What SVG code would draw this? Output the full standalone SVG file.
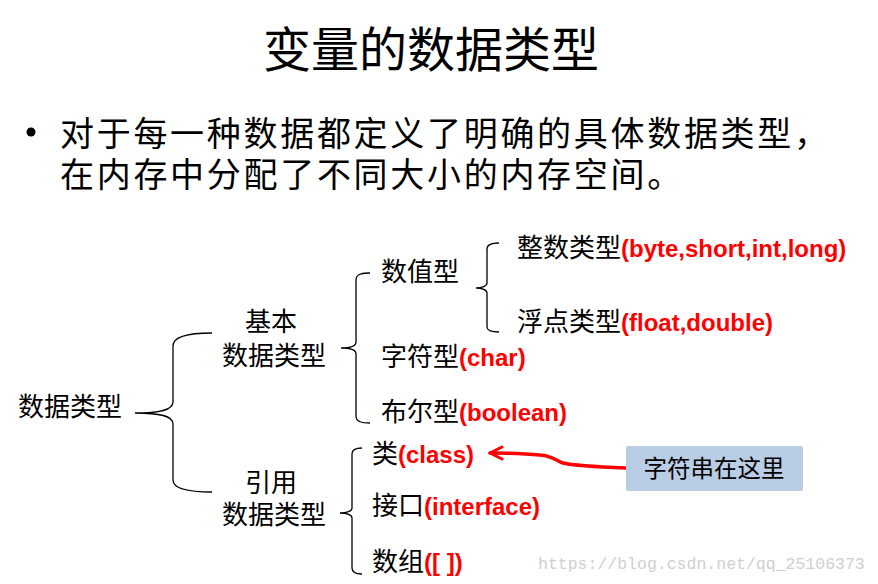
<svg xmlns="http://www.w3.org/2000/svg" width="878" height="584" viewBox="0 0 878 584">
<style>
.cjk{font-family:"Noto Sans CJK SC","Liberation Sans",sans-serif;fill:#000}
.lbl{font-size:26px}
.red{font-family:"Liberation Sans",Arial,sans-serif;font-weight:bold;fill:#ff0000;font-size:24px}
.brace{fill:none;stroke:#000;stroke-width:1.3}
</style>
<defs>
<marker id="ah" markerWidth="16" markerHeight="16" refX="14" refY="8" orient="auto" markerUnits="userSpaceOnUse">
<path d="M2,2 L14,8 L2,14" fill="none" stroke="#ff0000" stroke-width="3" stroke-linecap="round" stroke-linejoin="round"/>
</marker>
</defs>
<rect width="878" height="584" fill="#fff"/>
<g id="title"><text class="cjk" x="431" y="67" font-size="48" text-anchor="middle">变量的数据类型</text></g>
<g id="bullet">
<circle cx="31" cy="132" r="4.5" fill="#000"/>
<text class="cjk" x="60" y="146" font-size="34" letter-spacing="2.7">对于每一种数据都定义了明确的具体数据类型，</text>
<text class="cjk" x="60" y="187" font-size="34" letter-spacing="2.7">在内存中分配了不同大小的内存空间。</text>
</g>
<g id="connectors">
<path class="brace" d="M212,333 C190,333 173,336 173,346 L173,402 C173,410 160,413 135,413 C160,413 173,416 173,424 L173,480 C173,489 190,492 212,492"/>
<path class="brace" d="M370,273 C362,273 356,274 356,280 L356,342 C356,346 350,348 341,348 C350,348 356,350 356,354 L356,416 C356,422 362,423 370,423"/>
<path class="brace" d="M499,243 C492,243 487,244 487,249 L487,283 C487,286 482,288 476,288 C482,288 487,290 487,293 L487,327 C487,331 492,332 499,332"/>
<path class="brace" d="M362,448 C356,448 352,449 352,454 L352,508 C352,511 347,513 340,513 C347,513 352,515 352,518 L352,568 C352,573 356,574 362,574"/>
<path d="M626,468 C600,467 575,466 563,463 C555,460 553,456 540,455 C520,453 505,453 490,453" fill="none" stroke="#ff0000" stroke-width="3.5" stroke-linecap="round" marker-end="url(#ah)"/>
</g>
<g id="root"><text class="cjk lbl" x="18" y="416">数据类型</text></g>
<g id="basic">
<text class="cjk lbl" x="271" y="331" text-anchor="middle">基本</text>
<text class="cjk lbl" x="274" y="365" text-anchor="middle">数据类型</text>
</g>
<g id="reference">
<text class="cjk lbl" x="271" y="492" text-anchor="middle">引用</text>
<text class="cjk lbl" x="274" y="524" text-anchor="middle">数据类型</text>
</g>
<g id="numeric"><text class="cjk lbl" x="381" y="281">数值型</text></g>
<g id="integer"><text x="517" y="257"><tspan class="cjk lbl">整数类型</tspan><tspan class="red">(byte,short,int,long)</tspan></text></g>
<g id="float"><text x="517" y="331"><tspan class="cjk lbl">浮点类型</tspan><tspan class="red">(float,double)</tspan></text></g>
<g id="char"><text x="381" y="366"><tspan class="cjk lbl">字符型</tspan><tspan class="red">(char)</tspan></text></g>
<g id="boolean"><text x="381" y="421"><tspan class="cjk lbl">布尔型</tspan><tspan class="red">(boolean)</tspan></text></g>
<g id="class"><text x="372" y="463"><tspan class="cjk lbl">类</tspan><tspan class="red">(class)</tspan></text></g>
<g id="interface"><text x="372" y="515"><tspan class="cjk lbl">接口</tspan><tspan class="red">(interface)</tspan></text></g>
<g id="array"><text x="372" y="571"><tspan class="cjk lbl">数组</tspan><tspan class="red">([ ])</tspan></text></g>
<g id="note">
<rect x="626" y="446" width="177" height="45" rx="2" fill="#b9cde5"/>
<text class="cjk" x="714" y="477" font-size="23.5" text-anchor="middle">字符串在这里</text>
</g>
<g id="watermark"><text x="538" y="569" font-family="'Liberation Mono',monospace" font-size="16.5" fill="#cfcfcf">https://blog.csdn.net/qq_25106373</text></g>
</svg>
